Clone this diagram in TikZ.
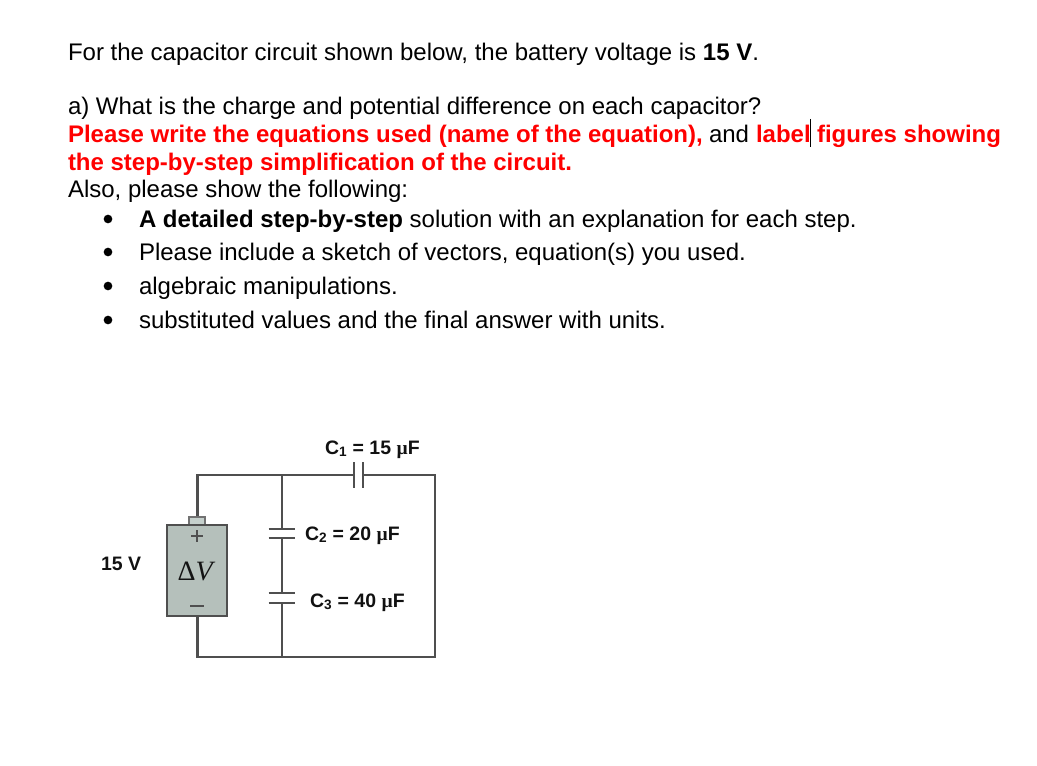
\documentclass[tikz,border=0pt]{standalone}
\usepackage{fontspec}
\setmainfont{Liberation Sans}
\newfontfamily\serifbit{Liberation Serif}
\definecolor{wirecol}{HTML}{4F4F4F}
\definecolor{batfill}{HTML}{B5C0BB}
\definecolor{capfill}{HTML}{C5D0CC}
\definecolor{redtext}{HTML}{FF0000}
\definecolor{labelcol}{HTML}{111111}
\begin{document}
\begin{tikzpicture}[x=0.75pt,y=-0.75pt,
  body/.style={anchor=base west,inner sep=0pt,outer sep=0pt,font=\fontsize{18}{20}\selectfont,text=black},
  alert/.style={body,text=redtext,font=\fontsize{18}{20}\selectfont\bfseries},
  dotmark/.style={circle,fill=black,inner sep=0pt,minimum size=6.5pt},
  wire/.style={draw=wirecol,line width=2.2pt},
  plate/.style={draw=wirecol,line width=2.2pt},
  clabel/.style={anchor=base west,inner sep=0pt,outer sep=0pt,text=labelcol,font=\fontsize{14.6}{16}\selectfont\bfseries}]
\useasboundingbox (0,0) rectangle (1037,766);
\fill[white] (0,0) rectangle (1037,766);

\node[body] (l1) at (68,60.5) {For the capacitor circuit shown below, the battery voltage is \textbf{15 V}.};
\node[body] (l2) at (68,114.5) {a) What is the charge and potential difference on each capacitor?};
\node[alert] (l3a) at (68,142.5) {Please write the equations used (name of the equation),};
\node[body] (l3b) at (709,142.5) {and};
\node[alert] (l3c) at (756,142.5) {label};
\node[alert] (l3d) at (817,142.5) {figures showing};
\coordinate (curT) at (810.5,119);
\coordinate (curB) at (810.5,147);
\draw[black,line width=0.6pt] (curT) -- (curB);
\node[alert] (l4) at (68,170.5) {the step-by-step simplification of the circuit.};
\node[body] (l5) at (68,197.5) {Also, please show the following:};
\node[dotmark] (d1) at (108,219) {};
\node[body] (b1) at (139,227.5) {\textbf{A detailed step-by-step} solution with an explanation for each step.};
\node[dotmark] (d2) at (108,252) {};
\node[body] (b2) at (139,260.5) {Please include a sketch of vectors, equation(s) you used.};
\node[dotmark] (d3) at (108,286) {};
\node[body] (b3) at (139,294.5) {algebraic manipulations.};
\node[dotmark] (d4) at (108,320) {};
\node[body] (b4) at (139,328.5) {substituted values and the final answer with units.};

% circuit junctions
\coordinate (tl) at (197.5,475);
\coordinate (tm) at (282,475);
\coordinate (tr) at (435,475);
\coordinate (bl) at (197.5,657);
\coordinate (bm) at (282,657);
\coordinate (br) at (435,657);
\coordinate (c1a) at (354,475);
\coordinate (c1b) at (363,475);
\coordinate (c2a) at (282,529);
\coordinate (c2b) at (282,538);
\coordinate (c3a) at (282,593);
\coordinate (c3b) at (282,603);

% battery
\node[draw=wirecol!80,fill=capfill,line width=1pt,minimum width=12pt,minimum height=6pt,inner sep=0pt] (cap) at (197,521) {};
\node[draw=wirecol,fill=batfill,line width=1.3pt,minimum width=45pt,minimum height=68pt,inner sep=0pt] (bat) at (197,570.5) {};
\draw[wirecol,line width=1.2pt] (191,536) coordinate (pA) -- (203,536) coordinate (pB);
\draw[wirecol,line width=1.2pt] (197,530) coordinate (pC) -- (197,542) coordinate (pD);
\node[inner sep=0pt,text=black!75!wirecol,font=\serifbit\fontsize{21}{23}\selectfont] (dv) at (196.5,571) {Δ\textit{V}};
\draw[wirecol,line width=2.2pt] (190,606) coordinate (mA) -- (204,606) coordinate (mB);

% wires
\draw[wire] (cap.north -| tl) -- (tl) -- (c1a);
\draw[wire] (c1b) -- (tr) -- (br) -- (bl) -- (bat.south -| bl);
\draw[wire] (tm) -- (c2a);
\draw[wire] (c2b) -- (c3a);
\draw[wire] (c3b) -- (bm);
% plates
\draw[plate] ([yshift=-9.5pt]c1a) -- ([yshift=10pt]c1a);
\draw[plate] ([yshift=-9.5pt]c1b) -- ([yshift=10pt]c1b);
\draw[plate] ([xshift=-10pt]c2a) -- ([xshift=10pt]c2a);
\draw[plate] ([xshift=-10pt]c2b) -- ([xshift=10pt]c2b);
\draw[plate] ([xshift=-10pt]c3a) -- ([xshift=10pt]c3a);
\draw[plate] ([xshift=-10pt]c3b) -- ([xshift=10pt]c3b);

\node[clabel] (lc1) at (325,454) {C\textsubscript{1} = 15 {\serifbit µ}F};
\node[clabel] (lc2) at (305,540) {C\textsubscript{2} = 20 {\serifbit µ}F};
\node[clabel] (lc3) at (310,607) {C\textsubscript{3} = 40 {\serifbit µ}F};
\node[clabel] (lv) at (101,570.5) {15 V};
\end{tikzpicture}
\end{document}
